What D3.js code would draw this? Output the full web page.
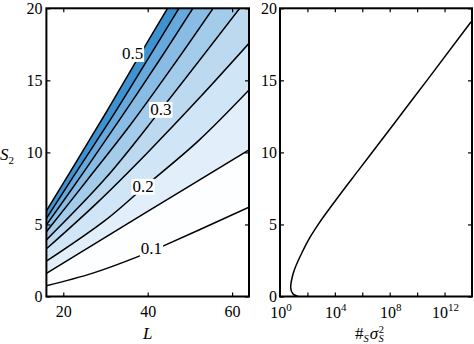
<!DOCTYPE html>
<html><head><meta charset="utf-8">
<script src="https://cdn.jsdelivr.net/npm/d3@7"></script>
<style>
html,body{margin:0;padding:0;background:#fff;}
svg{display:block;}
text{font-family:"Liberation Serif","Times New Roman",serif;fill:#000;}
</style></head>
<body><svg id="c" width="474" height="344"></svg>
<script>
// ---------- data ----------
const levels = [0.1, 0.15, 0.2, 0.25, 0.3, 0.35, 0.4, 0.45, 0.5];
// contour lines: [L, S2] points
const c010 = [[16,0.74],[27,1.62],[38,2.8],[44,3.55],[52,4.6],[64,6.2]];
const c015 = [[16,1.61],[40,5.9],[64,10.17]];
const c020 = [[16,2.45],[30,5.3],[39,7.55],[52,10.8],[64,14.33]];
const c025 = [[16,3.31],[28,6.5],[40,10.0],[52,13.7],[64,17.57]];
const c030 = [[16,3.93],[30,8.2],[43.1,12.95],[61.8,20]];
const c035 = [[16,4.49],[26,8.2],[36,11.95],[46,16.0],[55.5,20]];
const c040 = [[16,4.97],[25,8.7],[34,12.55],[43,16.5],[50.7,20]];
const c045 = [[16,5.42],[24,9.05],[32,12.65],[40,16.45],[47.4,20]];
const c050 = [[16,5.94],[23,9.3],[30,12.7],[37,16.2],[44.7,20]];
const contourLines = [c010, c015, c020, c025, c030, c035, c040, c045, c050];
// fill of region above each contour line
const bandColors = ["#fdfeff","#e2effa","#d0e5f5","#bcd9f0","#a3cbea","#88bce4","#67a9dc","#3d93d2","#ffffff"];
// contour label texts & positions [L, S2]
const labelTexts = ["0.1","0.2","0.3","0.5"];
const labelPos = [[40.9,3.31],[38.9,7.61],[43.1,12.95],[36.4,16.83]];

// right panel curve: #S sigma_S^2 vs S2 (sorted by S2)
const varS = [20.4, 8.9, 6.0, 8.9, 47, 132, 537, 1.12e4, 5.2e5, 1.74e7, 9.1e8, 6.3e10, 8.7e13];
const s2Right = [0, 0.17, 0.63, 1.56, 3.18, 4.0, 4.92, 6.66, 8.75, 10.65, 12.8, 15.1, 19.07];

const xTicksL = [20, 40, 60];
const yTicks = [0, 5, 10, 15, 20];
const xTicksRminor = [1e2, 1e4, 1e6, 1e8, 1e10, 1e12];
const xTicksRlab = [1e0, 1e4, 1e8, 1e12];
const xExpLab = ["0", "4", "8", "12"];

// ---------- layout ----------
const svg = d3.select("#c");
const yTop = 8.3, yBot = 296.5;
const xL = d3.scaleLinear().domain([16, 64]).range([46.4, 249]);
const yS = d3.scaleLinear().domain([0, 20]).range([yBot, yTop]);
const xR = d3.scaleLog().domain([1, 1e14]).range([280, 472]);
const FS = 16;
const FONT = "'Liberation Serif', 'Times New Roman', serif";

svg.append("defs").append("clipPath").attr("id","clipL")
  .append("rect").attr("x", xL(16)).attr("y", yTop).attr("width", xL(64)-xL(16)).attr("height", yBot-yTop);

// ---------- left panel ----------
const gL = svg.append("g").attr("clip-path","url(#clipL)");
const lineGen = d3.line().x(d => xL(d[0])).y(d => yS(d[1])).curve(d3.curveCatmullRom.alpha(0.5));
contourLines.forEach((pts, i) => {
  const p = lineGen(pts) + `L${xL(64)},${yS(20)}L${xL(16)},${yS(20)}Z`;
  gL.append("path").attr("d", p).attr("fill", bandColors[i]).attr("stroke","none");
});
contourLines.forEach(pts => {
  gL.append("path").attr("d", lineGen(pts)).attr("fill","none").attr("stroke","#000").attr("stroke-width",1.5);
});
labelTexts.forEach((t, i) => {
  const g = svg.append("g");
  const tx = g.append("text").attr("x", xL(labelPos[i][0])).attr("y", yS(labelPos[i][1]))
    .attr("text-anchor","middle").attr("dominant-baseline","central").attr("font-size", FS+1)
    .style("font-family", FONT).text(t);
  const bb = tx.node().getBBox();
  g.insert("rect","text").attr("x", bb.x-1).attr("y", bb.y+1.5).attr("width", bb.width+2).attr("height", bb.height-3).attr("fill","#fff");
});

function styleAxis(g){
  g.attr("font-family", null);
  g.select(".domain").remove();
  g.selectAll(".tick line").attr("stroke","#000").attr("stroke-width",1.2);
  g.selectAll(".tick text").attr("font-size", FS).style("font-family", FONT).attr("fill","#000");
}
// left panel axes
svg.append("g").attr("transform",`translate(0,${yBot})`)
  .call(d3.axisBottom(xL).tickValues(xTicksL).tickSize(-4).tickPadding(9)).call(styleAxis);
svg.append("g").attr("transform",`translate(0,${yTop})`)
  .call(d3.axisTop(xL).tickValues(xTicksL).tickSize(-4).tickFormat("")).call(styleAxis);
svg.append("g").attr("transform",`translate(${xL(16)},0)`)
  .call(d3.axisLeft(yS).tickValues(yTicks).tickSize(-4).tickPadding(4)).call(styleAxis);
svg.append("g").attr("transform",`translate(${xL(64)},0)`)
  .call(d3.axisRight(yS).tickValues(yTicks).tickSize(-4).tickFormat("")).call(styleAxis);
svg.append("rect").attr("x", xL(16)).attr("y", yTop).attr("width", xL(64)-xL(16)).attr("height", yBot-yTop)
  .attr("fill","none").attr("stroke","#000").attr("stroke-width",2);

// ---------- right panel ----------
const rLine = d3.line().x((d,i) => xR(varS[i])).y((d,i) => yS(s2Right[i])).curve(d3.curveMonotoneY);
svg.append("path").attr("d", rLine(varS)).attr("fill","none").attr("stroke","#000").attr("stroke-width",1.5);

svg.append("g").attr("transform",`translate(0,${yBot})`)
  .call(d3.axisBottom(xR).tickValues(xTicksRminor).tickSize(-4).tickFormat("")).call(styleAxis);
svg.append("g").attr("transform",`translate(0,${yTop})`)
  .call(d3.axisTop(xR).tickValues(xTicksRminor).tickSize(-4).tickFormat("")).call(styleAxis);
svg.append("g").attr("transform",`translate(${xR(1)},0)`)
  .call(d3.axisLeft(yS).tickValues(yTicks).tickSize(-4).tickPadding(3)).call(styleAxis);
svg.append("g").attr("transform",`translate(${xR(1e14)},0)`)
  .call(d3.axisRight(yS).tickValues(yTicks).tickSize(-4).tickFormat("")).call(styleAxis);
svg.append("rect").attr("x", xR(1)).attr("y", yTop).attr("width", xR(1e14)-xR(1)).attr("height", yBot-yTop)
  .attr("fill","none").attr("stroke","#000").attr("stroke-width",2);
// log tick labels 10^n
xTicksRlab.forEach((v, i) => {
  const t = svg.append("text").attr("x", xR(v)+1).attr("y", yBot+21).attr("text-anchor","middle").attr("font-size", FS);
  t.append("tspan").text("10");
  t.append("tspan").attr("font-size", 11).attr("dy", -7).text(xExpLab[i]);
});

// ---------- axis titles ----------
svg.append("text").attr("x", xL(40)).attr("y", 339).attr("text-anchor","middle")
  .attr("font-size", 17).attr("font-style","italic").text("L");
const tS = svg.append("text").attr("x", 0).attr("y", 160).attr("font-size", 17);
tS.append("tspan").attr("font-style","italic").text("S");
tS.append("tspan").attr("font-size", 11).attr("dy", 4).text("2");

const xt = 355, yt = 339;
const tt = svg.append("text").attr("x", xt).attr("y", yt).attr("font-size", 17);
tt.append("tspan").text("#");
tt.append("tspan").attr("font-size", 10.5).attr("font-style","italic").attr("dy", 2.5).text("S");
tt.append("tspan").attr("font-style","italic").attr("dy", -2.5).attr("dx", 1).text("σ");
tt.append("tspan").attr("font-size", 10.5).attr("dy", -6.5).attr("dx", 0.5).text("2");
tt.append("tspan").attr("font-size", 10.5).attr("font-style","italic").attr("dy", 9).attr("dx", -5.5).text("S");
</script></body></html>
